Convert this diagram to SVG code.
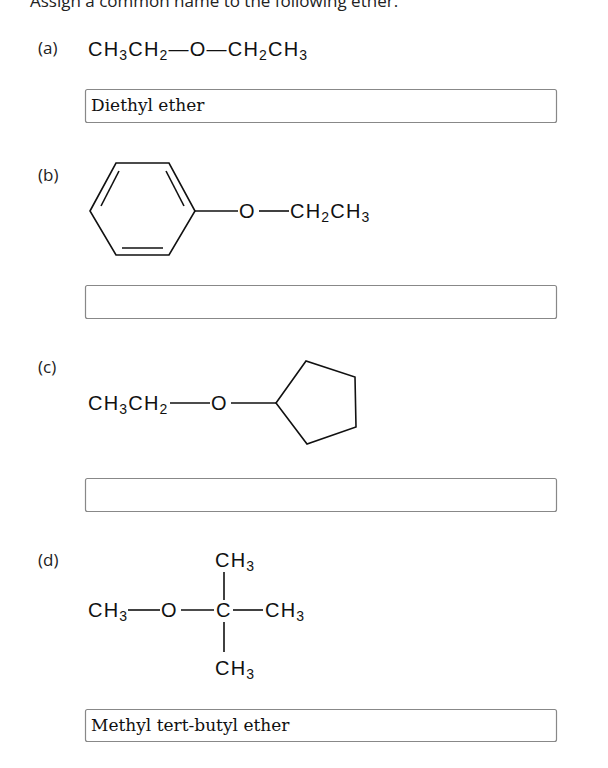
<svg xmlns="http://www.w3.org/2000/svg" width="608" height="768" viewBox="0 0 608 768">
<style>
.q{font-family:"Open Sans","Noto Sans",sans-serif;font-size:17px;fill:#222}
.lb{font-family:"Open Sans","Noto Sans",sans-serif;font-size:17px;fill:#222}
.f{font-family:"Liberation Sans",Arial,sans-serif;font-size:20px;letter-spacing:1.2px;fill:#111}
.s{font-size:14px}
.b{stroke:#111;stroke-width:1.6;fill:none}
.box{fill:#fff;stroke:#888;stroke-width:1.2}
.a{font-family:"DejaVu Serif","Liberation Serif",serif;font-size:17px;fill:#111}
</style>
<rect width="608" height="768" fill="#fff"/>
<text class="q" x="30" y="7">Assign a common name to the following ether.</text>
<g id="a">
<text class="lb" x="38" y="54">(a)</text>
<text class="f" x="88" y="56">CH<tspan class="s" dy="4">3</tspan><tspan dy="-4">CH</tspan><tspan class="s" dy="4">2</tspan><tspan dy="-4">—O—CH</tspan><tspan class="s" dy="4">2</tspan><tspan dy="-4">CH</tspan><tspan class="s" dy="4">3</tspan></text>
<rect class="box" x="85.5" y="89.5" width="471" height="33" rx="2"/>
<text class="a" x="91" y="111">Diethyl ether</text>
</g>
<g id="b">
<text class="lb" x="38" y="181">(b)</text>
<polygon class="b" points="90,211 116,163 169,163 195,211 169,255 116,255"/>
<line class="b" x1="119" y1="171" x2="101" y2="206"/>
<line class="b" x1="166" y1="171" x2="184" y2="206"/>
<line class="b" x1="122" y1="248" x2="163" y2="248"/>
<line class="b" x1="195" y1="211" x2="238" y2="211"/>
<text class="f" x="239" y="218">O</text>
<line class="b" x1="259" y1="211" x2="289" y2="211"/>
<text class="f" x="290" y="218">CH<tspan class="s" dy="4">2</tspan><tspan dy="-4">CH</tspan><tspan class="s" dy="4">3</tspan></text>
<rect class="box" x="85.5" y="285.5" width="471" height="33" rx="2"/>
</g>
<g id="c">
<text class="lb" x="38" y="373">(c)</text>
<text class="f" x="88" y="410">CH<tspan class="s" dy="4">3</tspan><tspan dy="-4">CH</tspan><tspan class="s" dy="4">2</tspan></text>
<line class="b" x1="170" y1="403" x2="210" y2="403"/>
<text class="f" x="211" y="410">O</text>
<line class="b" x1="231" y1="403" x2="276" y2="403"/>
<polygon class="b" points="276,403 306,361 355,377 356,427 307,444"/>
<rect class="box" x="85.5" y="478.5" width="471" height="33" rx="2"/>
</g>
<g id="d">
<text class="lb" x="38" y="566">(d)</text>
<text class="f" x="215" y="567">CH<tspan class="s" dy="4">3</tspan></text>
<line class="b" x1="224" y1="572" x2="224" y2="600"/>
<text class="f" x="88" y="617">CH<tspan class="s" dy="4">3</tspan></text>
<line class="b" x1="128" y1="610" x2="160" y2="610"/>
<text class="f" x="161" y="617">O</text>
<line class="b" x1="181" y1="610" x2="214" y2="610"/>
<text class="f" x="216" y="617">C</text>
<line class="b" x1="233" y1="610" x2="263" y2="610"/>
<text class="f" x="265" y="617">CH<tspan class="s" dy="4">3</tspan></text>
<line class="b" x1="224" y1="622" x2="224" y2="652"/>
<text class="f" x="215" y="675">CH<tspan class="s" dy="4">3</tspan></text>
<rect class="box" x="85.5" y="709.5" width="471" height="32" rx="2"/>
<text class="a" x="91" y="731">Methyl tert-butyl ether</text>
</g>
</svg>
